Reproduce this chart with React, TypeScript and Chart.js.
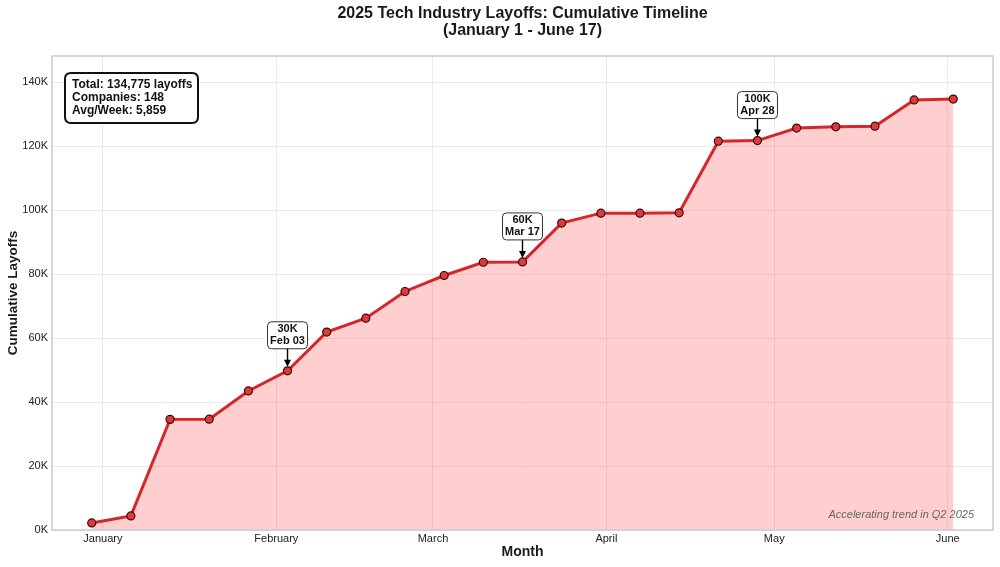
import React, { useEffect, useRef } from "react";
import { Chart, registerables } from "chart.js";

Chart.register(...registerables);

// Week start dates (Mondays) and cumulative layoffs
const weekDates = [
  "2024-12-30", "2025-01-06", "2025-01-13", "2025-01-20", "2025-01-27",
  "2025-02-03", "2025-02-10", "2025-02-17", "2025-02-24", "2025-03-03",
  "2025-03-10", "2025-03-17", "2025-03-24", "2025-03-31", "2025-04-07",
  "2025-04-14", "2025-04-21", "2025-04-28", "2025-05-05", "2025-05-12",
  "2025-05-19", "2025-05-26", "2025-06-02",
];
const cumulativeLayoffs = [
  2200, 4400, 34600, 34650, 43500, 49800, 61900, 66250, 74600, 79600,
  83750, 83850, 96000, 99100, 99100, 99200, 121600, 121800, 125700, 126100,
  126300, 134500, 134775,
];
const monthTickDates = ["2025-01-01", "2025-02-01", "2025-03-01", "2025-04-01", "2025-05-01", "2025-06-01"];
const monthTickLabels = ["January", "February", "March", "April", "May", "June"];
const yTickValues = [0, 20000, 40000, 60000, 80000, 100000, 120000, 140000];

const milestoneDates = ["2025-02-03", "2025-03-17", "2025-04-28"];
const milestoneLabels = [["30K", "Feb 03"], ["60K", "Mar 17"], ["100K", "Apr 28"]];

const titleLines = ["2025 Tech Industry Layoffs: Cumulative Timeline", "(January 1 - June 17)"];
const statsLines = ["Total: 134,775 layoffs", "Companies: 148", "Avg/Week: 5,859"];
const footnote = "Accelerating trend in Q2 2025";

const FONT = "'Liberation Sans', Arial, sans-serif";

const dayOffset = (s: string) => {
  const [y, m, d] = s.split("-").map(Number);
  return (Date.UTC(y, m - 1, d) - Date.UTC(2025, 0, 1)) / 86400000;
};

function roundRect(ctx: CanvasRenderingContext2D, x: number, y: number, w: number, h: number, r: number) {
  ctx.beginPath();
  ctx.moveTo(x + r, y);
  ctx.lineTo(x + w - r, y);
  ctx.quadraticCurveTo(x + w, y, x + w, y + r);
  ctx.lineTo(x + w, y + h - r);
  ctx.quadraticCurveTo(x + w, y + h, x + w - r, y + h);
  ctx.lineTo(x + r, y + h);
  ctx.quadraticCurveTo(x, y + h, x, y + h - r);
  ctx.lineTo(x, y + r);
  ctx.quadraticCurveTo(x, y, x + r, y);
  ctx.closePath();
}

const overlayPlugin = {
  id: "overlay",
  afterDraw(chart: any) {
    const ctx: CanvasRenderingContext2D = chart.ctx;
    const area = chart.chartArea;
    const xs = chart.scales.x;
    const ys = chart.scales.y;
    ctx.save();

    // frame
    ctx.strokeStyle = "#cccccc";
    ctx.lineWidth = 1.5;
    ctx.strokeRect(area.left, area.top, area.right - area.left, area.bottom - area.top);

    // title
    const cx = (area.left + area.right) / 2;
    ctx.fillStyle = "#1a1a1a";
    ctx.font = `bold 16px ${FONT}`;
    ctx.textAlign = "center";
    ctx.textBaseline = "middle";
    ctx.fillText(titleLines[0], cx, 14);
    ctx.fillText(titleLines[1], cx, 31);

    // axis titles
    ctx.font = `bold 14px ${FONT}`;
    ctx.fillText("Month", cx, 552);
    ctx.save();
    ctx.font = `bold 13.5px ${FONT}`;
    ctx.translate(13, (area.top + area.bottom) / 2);
    ctx.rotate(-Math.PI / 2);
    ctx.fillText("Cumulative Layoffs", 0, 0);
    ctx.restore();

    // milestones
    milestoneDates.forEach((d, i) => {
      const idx = weekDates.indexOf(d);
      const px = xs.getPixelForValue(dayOffset(d));
      const py = ys.getPixelForValue(cumulativeLayoffs[idx]);
      const bw = 40, bh = 27;
      const bx = px - bw / 2, by = py - 49;
      ctx.fillStyle = "#ffffff";
      ctx.strokeStyle = "#333333";
      ctx.lineWidth = 1;
      roundRect(ctx, bx, by, bw, bh, 4);
      ctx.fill();
      ctx.stroke();
      ctx.fillStyle = "#111111";
      ctx.font = `bold 11px ${FONT}`;
      ctx.textAlign = "center";
      ctx.textBaseline = "middle";
      ctx.fillText(milestoneLabels[i][0], px, by + 7.5);
      ctx.fillText(milestoneLabels[i][1], px, by + 19.5);
      // arrow
      ctx.strokeStyle = "#000";
      ctx.lineWidth = 1.4;
      ctx.beginPath();
      ctx.moveTo(px, by + bh);
      ctx.lineTo(px, py - 6);
      ctx.stroke();
      ctx.fillStyle = "#000";
      ctx.beginPath();
      ctx.moveTo(px, py - 4);
      ctx.lineTo(px - 3.5, py - 11);
      ctx.lineTo(px + 3.5, py - 11);
      ctx.closePath();
      ctx.fill();
    });

    // stats box
    ctx.fillStyle = "#ffffff";
    ctx.strokeStyle = "#111111";
    ctx.lineWidth = 2;
    roundRect(ctx, 65, 73, 133, 50, 6);
    ctx.fill();
    ctx.stroke();
    ctx.fillStyle = "#111111";
    ctx.font = `bold 12px ${FONT}`;
    ctx.textAlign = "left";
    ctx.textBaseline = "middle";
    statsLines.forEach((l, i) => ctx.fillText(l, 72, 84.5 + i * 13));

    // footnote
    ctx.fillStyle = "#666666";
    ctx.font = `italic 11px ${FONT}`;
    ctx.textAlign = "right";
    ctx.fillText(footnote, 974, 515);

    ctx.restore();
  },
};

export default function App() {
  const ref = useRef<HTMLCanvasElement>(null);
  useEffect(() => {
    if (!ref.current) return;
    const points = weekDates.map((d, i) => ({ x: dayOffset(d), y: cumulativeLayoffs[i] }));
    const chart = new Chart(ref.current, {
      type: "line",
      data: {
        datasets: [
          {
            data: points,
            borderColor: "#d3272c",
            borderWidth: 3,
            backgroundColor: "rgba(255, 0, 0, 0.19)",
            fill: "origin",
            pointRadius: 4,
            pointBackgroundColor: "#dd3b3b",
            pointBorderColor: "#3a0808",
            pointBorderWidth: 1.2,
            tension: 0,
          },
        ],
      },
      options: {
        animation: false,
        responsive: false,
        events: [],
        layout: { padding: { left: 0, right: 7, top: 56, bottom: 0 } },
        plugins: { legend: { display: false }, title: { display: false }, tooltip: { enabled: false } },
        scales: {
          x: {
            type: "linear",
            min: -9.1,
            max: 159.1,
            afterFit: (s: any) => { s.height = 37; },
            afterBuildTicks: (s: any) => {
              s.ticks = monthTickDates.map((d) => ({ value: dayOffset(d) }));
            },
            ticks: {
              autoSkip: false,
              maxRotation: 0,
              padding: 2,
              color: "#222",
              font: { family: FONT, size: 11 },
              callback: (v: any) => {
                const i = monthTickDates.findIndex((d) => dayOffset(d) === v);
                return i >= 0 ? monthTickLabels[i] : "";
              },
            },
            grid: { color: "rgba(200,200,200,0.35)", lineWidth: 1, drawTicks: false },
            border: { display: false },
          },
          y: {
            min: 0,
            max: 148252,
            afterFit: (s: any) => { s.width = 52; },
            afterBuildTicks: (s: any) => {
              s.ticks = yTickValues.map((v) => ({ value: v }));
            },
            ticks: {
              padding: 4,
              color: "#222",
              font: { family: FONT, size: 11 },
              callback: (v: any) => `${Math.round(Number(v) / 1000)}K`,
            },
            grid: { color: "rgba(200,200,200,0.35)", lineWidth: 1, drawTicks: false },
            border: { display: false },
          },
        },
      },
      plugins: [overlayPlugin],
    });
    return () => chart.destroy();
  }, []);
  return (
    <div style={{ position: "absolute", left: 0, top: 0, width: 1000, height: 567, background: "#fff" }}>
      <canvas ref={ref} width={1000} height={567} style={{ width: 1000, height: 567, display: "block" }} />
    </div>
  );
}
